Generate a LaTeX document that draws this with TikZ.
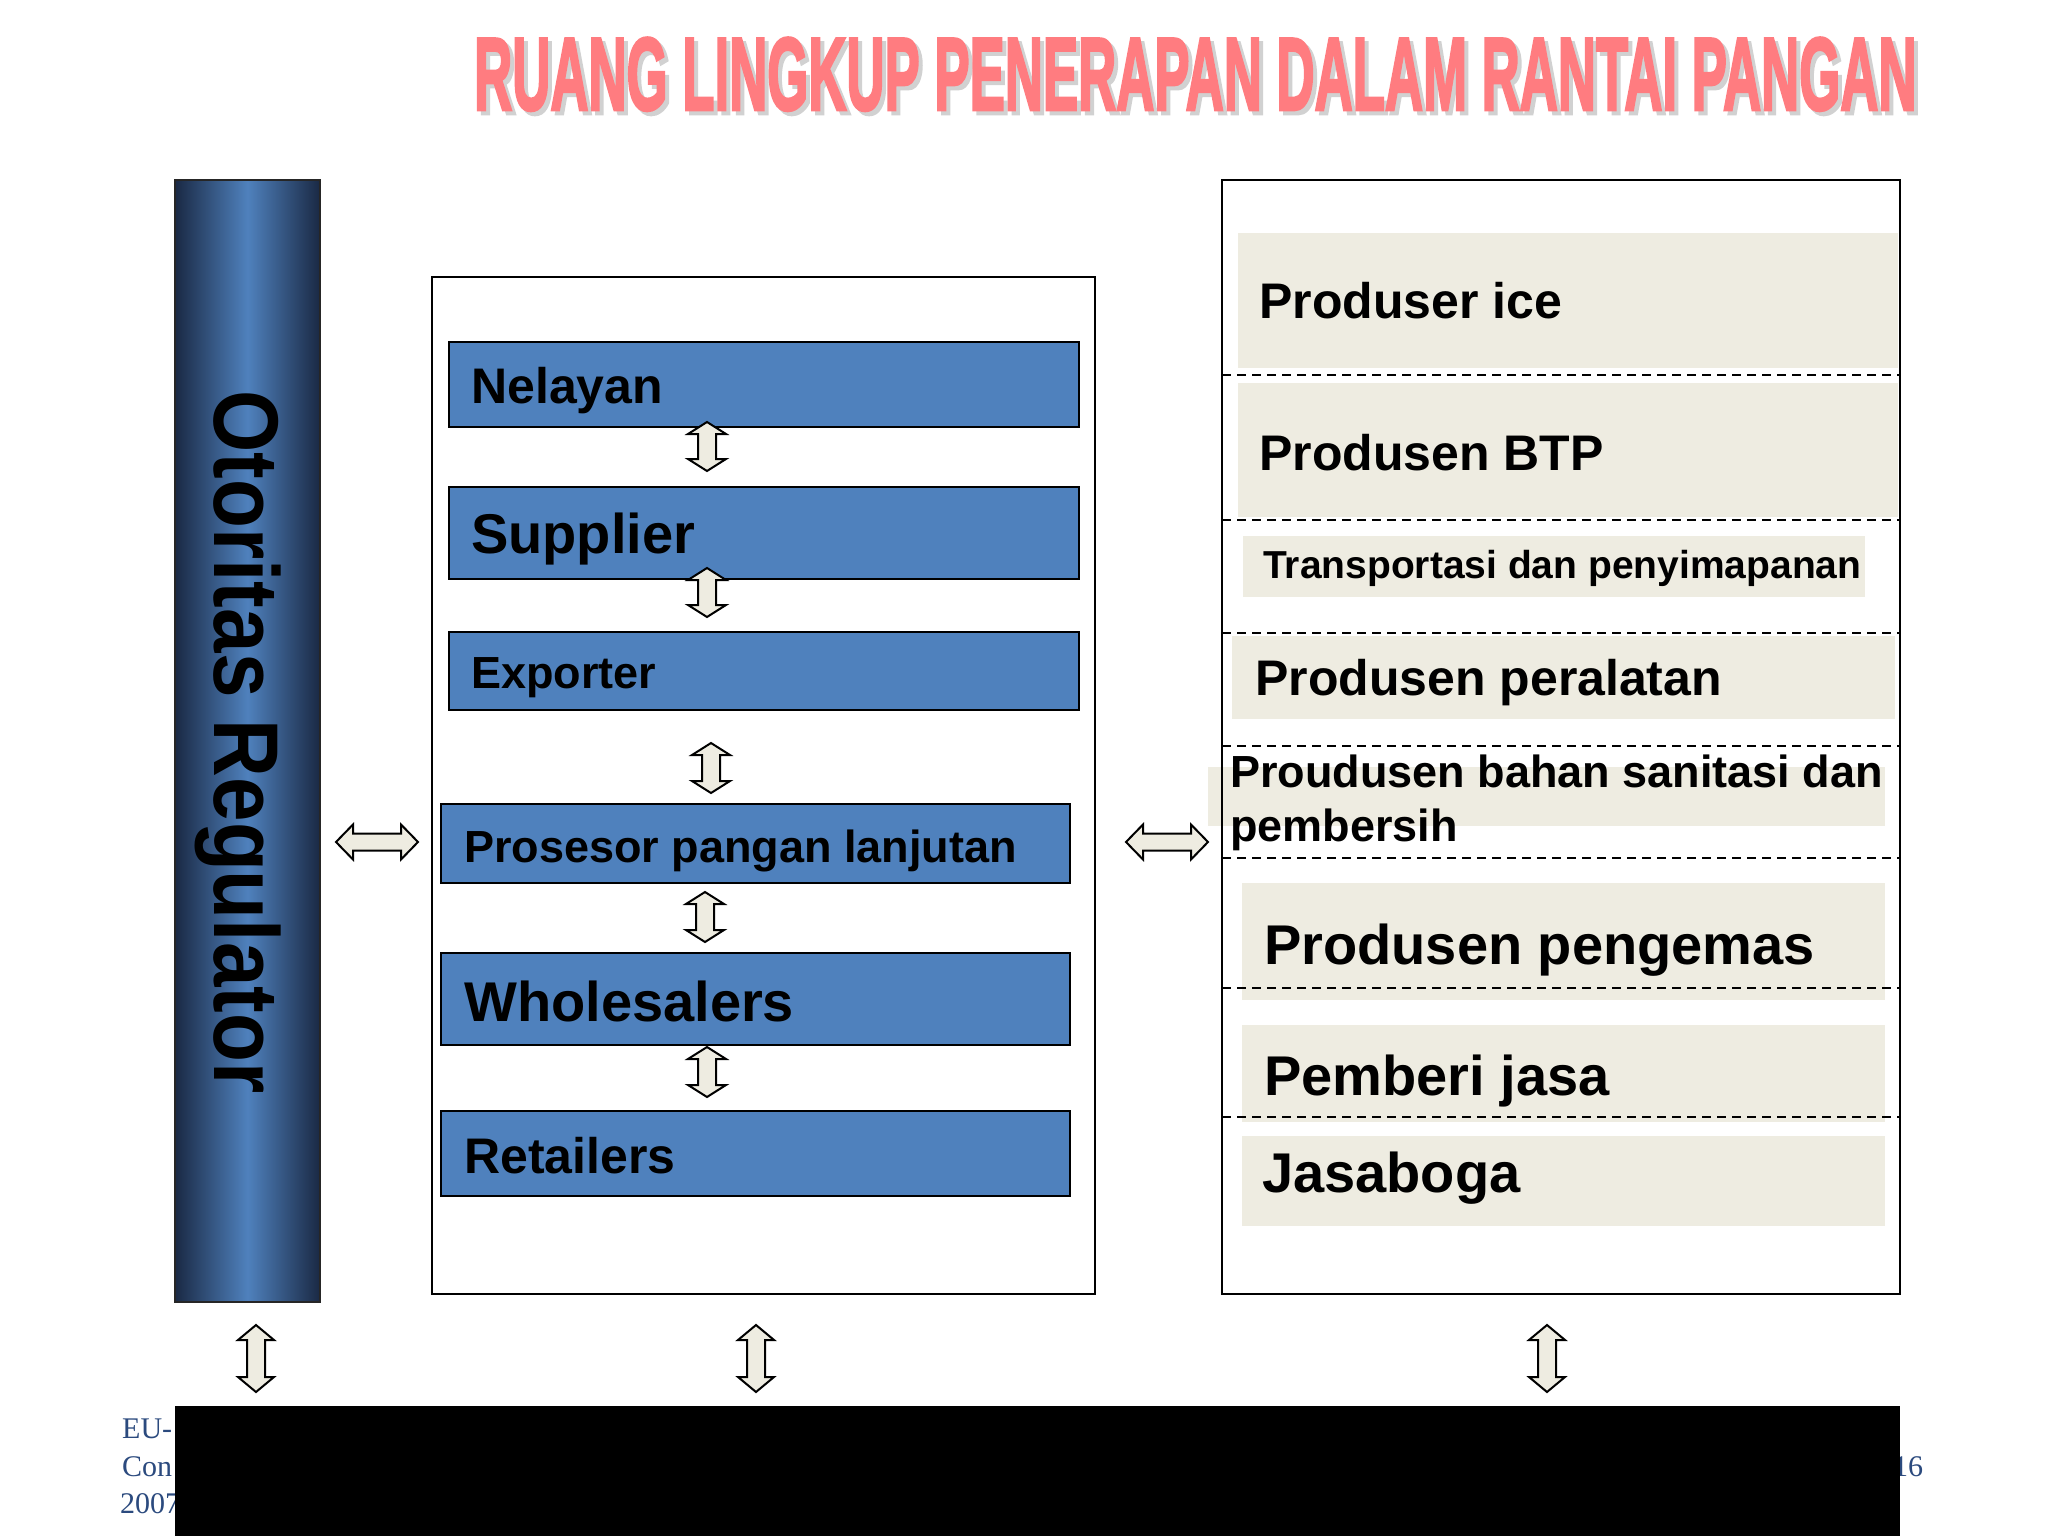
\documentclass[tikz,border=0pt]{standalone}
\usepackage{fontspec}
\setmainfont{Liberation Sans}
\newfontfamily\serifft{Liberation Serif}
\newfontfamily\titlefont{Liberation Sans}[BoldFeatures={FakeBold=3}]
\definecolor{boxblue}{HTML}{4F81BD}
\definecolor{beige}{HTML}{EEECE1}
\definecolor{titlepink}{HTML}{FF7C80}
\definecolor{navy}{HTML}{1A2944}
\definecolor{footblue}{HTML}{2B4A7E}
\newcommand\fs[1]{\fontsize{#1}{#1}\selectfont\bfseries}
% vertical double block arrow: cx, ytop, ybot, half width, half shaft, head length
\newcommand\VDA[6]{\draw[blockarrow] (#1,#2) -- (#1+#4,#2+#6) -- (#1+#5,#2+#6) -- (#1+#5,#3-#6) -- (#1+#4,#3-#6) -- (#1,#3) -- (#1-#4,#3-#6) -- (#1-#5,#3-#6) -- (#1-#5,#2+#6) -- (#1-#4,#2+#6) -- cycle;}
% horizontal double block arrow: xleft, xright, cy, half width, half shaft, head length
\newcommand\HDA[6]{\draw[blockarrow] (#1,#3) -- (#1+#6,#3-#4) -- (#1+#6,#3-#5) -- (#2-#6,#3-#5) -- (#2-#6,#3-#4) -- (#2,#3) -- (#2-#6,#3+#4) -- (#2-#6,#3+#5) -- (#1+#6,#3+#5) -- (#1+#6,#3+#4) -- cycle;}
\begin{document}
\begin{tikzpicture}[x=1pt,y=-1pt,
  blockarrow/.style={draw=black, line width=2pt, fill=beige, line join=miter},
  bluebox/.style={draw=black, line width=2pt, fill=boxblue},
  beigebox/.style={fill=beige},
  frame/.style={draw=black, line width=2pt},
  sepline/.style={draw=black, line width=2pt, dash pattern=on 9pt off 6pt},
  lbl/.style={inner sep=0pt, anchor=base west, text=black}]
\useasboundingbox (0,0) rectangle (2048,1536);
\fill[white] (0,0) rectangle (2048,1536);

% title with its soft shadow
\node[inner sep=0pt, anchor=south west, text=black!18] (titleshadow) at (478,115)
  {\resizebox{1442pt}{72pt}{\titlefont\bfseries RUANG LINGKUP PENERAPAN DALAM RANTAI PANGAN}};
\node[inner sep=0pt, anchor=south west, text=titlepink] (title) at (474,111)
  {\resizebox{1442pt}{72pt}{\titlefont\bfseries RUANG LINGKUP PENERAPAN DALAM RANTAI PANGAN}};

% regulator bar
\shade[left color=navy, right color=navy, middle color=boxblue] (175,180) rectangle (320,1302);
\draw[line width=2pt, draw=black!85] (175,180) rectangle (320,1302);
\node[rotate=-90, anchor=base, inner sep=0pt] (reg) at (214,742)
  {\scalebox{0.87}[1]{\fs{92}Otoritas Regulator}};

% middle frame
\draw[frame] (432,277) rectangle (1095,1294);
\path[bluebox] (449,342) rectangle (1079,427);
\path[bluebox] (449,487) rectangle (1079,579);
\path[bluebox] (449,632) rectangle (1079,710);
\path[bluebox] (441,804) rectangle (1070,883);
\path[bluebox] (441,953) rectangle (1070,1045);
\path[bluebox] (441,1111) rectangle (1070,1196);
\node[lbl, font=\fs{50}] (nel) at (471,403) {Nelayan};
\node[lbl, font=\fs{56}] (sup) at (471,553) {Supplier};
\node[lbl, font=\fs{45}] (exp) at (471,688) {Exporter};
\node[lbl, font=\fs{45}] (pro) at (464,862) {Prosesor pangan lanjutan};
\node[lbl, font=\fs{56}] (who) at (464,1021) {Wholesalers};
\node[lbl, font=\fs{50}] (ret) at (464,1173) {Retailers};

% vertical arrows in the chain
\VDA{707}{422}{471}{19}{9}{12}
\VDA{707}{568}{617}{19}{9}{12}
\VDA{711}{743}{793}{19}{9}{12}
\VDA{705}{892}{942}{19}{9}{12}
\VDA{707}{1047}{1097}{19}{9}{12}

% horizontal arrows
\HDA{336}{418}{842}{17.5}{8.5}{17}
\HDA{1126}{1208}{842}{17.5}{8.5}{17}

% right frame
\path[beigebox] (1238,233) rectangle (1898,368);
\path[beigebox] (1238,383) rectangle (1898,517);
\path[beigebox] (1243,536) rectangle (1865,597);
\path[beigebox] (1232,636) rectangle (1895,719);
\path[beigebox] (1208,767) rectangle (1885,826);
\path[beigebox] (1242,883) rectangle (1885,1000);
\path[beigebox] (1242,1025) rectangle (1885,1122);
\path[beigebox] (1242,1136) rectangle (1885,1226);
\foreach \yy in {375,520,633,746,858,988,1117}
  \draw[sepline] (1222,\yy) -- (1900,\yy);
\draw[frame] (1222,180) rectangle (1900,1294);
\node[lbl, font=\fs{50}] (ice) at (1259,318) {Produser ice};
\node[lbl, font=\fs{50}] (btp) at (1259,470) {Produsen BTP};
\node[lbl, font=\fs{39}] (trans) at (1263,578) {Transportasi dan penyimapanan};
\node[lbl, font=\fs{50}] (alat) at (1255,695) {Produsen peralatan};
\node[lbl, font=\fs{45}] (san1) at (1230,787) {Proudusen bahan sanitasi dan};
\node[lbl, font=\fs{45}] (san2) at (1230,841) {pembersih};
\node[lbl, font=\fs{56}] (kemas) at (1264,964) {Produsen pengemas};
\node[lbl, font=\fs{56}] (jasa) at (1264,1095) {Pemberi jasa};
\node[lbl, font=\fs{56}] (boga) at (1262,1192) {Jasaboga};

% bottom arrows
\VDA{256}{1325}{1392}{18}{9}{15}
\VDA{756}{1325}{1392}{18}{9}{15}
\VDA{1547}{1325}{1392}{18}{9}{15}

% footer (mostly hidden behind the black band)
\node[lbl, text=footblue, font=\serifft\fontsize{30}{30}\selectfont] (f1) at (122,1438) {EU-};
\node[lbl, text=footblue, font=\serifft\fontsize{30}{30}\selectfont] (f2) at (122,1476) {Con};
\node[lbl, text=footblue, font=\serifft\fontsize{30}{30}\selectfont] (f3) at (120,1513) {2007};
\node[lbl, text=footblue, font=\serifft\fontsize{30}{30}\selectfont] (pg) at (1893,1476) {16};
\fill[black] (175,1406) rectangle (1900,1536);
\end{tikzpicture}
\end{document}
